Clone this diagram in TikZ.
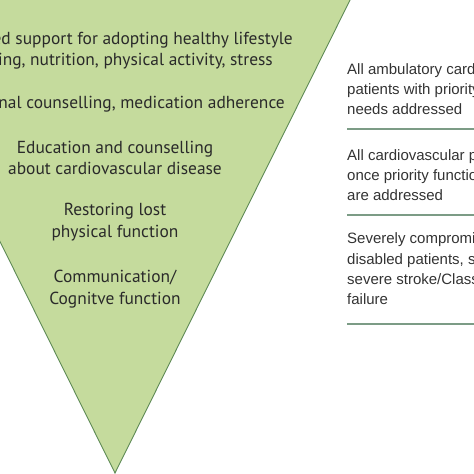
\documentclass[tikz,border=0pt]{standalone}
\usepackage{fontspec}
\setmainfont{Liberation Sans}
\newfontfamily\trifont{PT Sans}
\usetikzlibrary{positioning}
\definecolor{tfill}{HTML}{C5DB9D}
\definecolor{tedge}{HTML}{5E8A55}
\definecolor{trule}{HTML}{7C9C86}
\definecolor{ttext}{HTML}{2A2A2A}
\definecolor{rtext}{HTML}{333333}
\tikzset{
  tri/.style={fill=tfill, draw=tedge, line width=0.9pt, line join=miter},
  trilbl/.style={ttext, font=\trifont\fontsize{17.4}{21.5}\selectfont, align=center, inner sep=0pt},
  grplbl/.style={rtext, font=\fontsize{15}{20.3}\selectfont, align=left, inner sep=0pt, anchor=west},
  grprule/.style={trule, line width=1.2pt},
}
\begin{document}
\begin{tikzpicture}[x=1pt,y=-1pt]
  \useasboundingbox (0,0) rectangle (474,474);
  \clip (0,0) rectangle (474,474);

  % inverted pyramid
  \draw[tri] (-126,-12) -- (356,-12) -- (115,473) -- cycle;

  \node[trilbl, anchor=east] (life1) at (293,40) {ed support for adopting healthy lifestyle};
  \node[trilbl, anchor=east] (life2) at (273,61) {ing, nutrition, physical activity, stress};
  \node[trilbl, anchor=east] (meds) at (285,104) {nal counselling, medication adherence};
  \node[trilbl] (edu) at (115,158) {Education and counselling\\about cardiovascular disease};
  \node[trilbl] (phys) at (115,222) {Restoring lost\\physical function};
  \node[trilbl] (cogn) at (115,289) {Communication/\\Cognitve function};

  % patient groups
  \node[grplbl] (grpa) at (347,89) {All ambulatory card\\patients with priority\\needs addressed};
  \node[grplbl] (grpb) at (347,175) {All cardiovascular p\\once priority functio\\are addressed};
  \node[grplbl] (grpc) at (347,269) {Severely compromi\\disabled patients, s\\severe stroke/Class\\failure};

  \foreach \y in {129,215,324}
    \draw[grprule] (347,\y) -- (480,\y);

\end{tikzpicture}
\end{document}
